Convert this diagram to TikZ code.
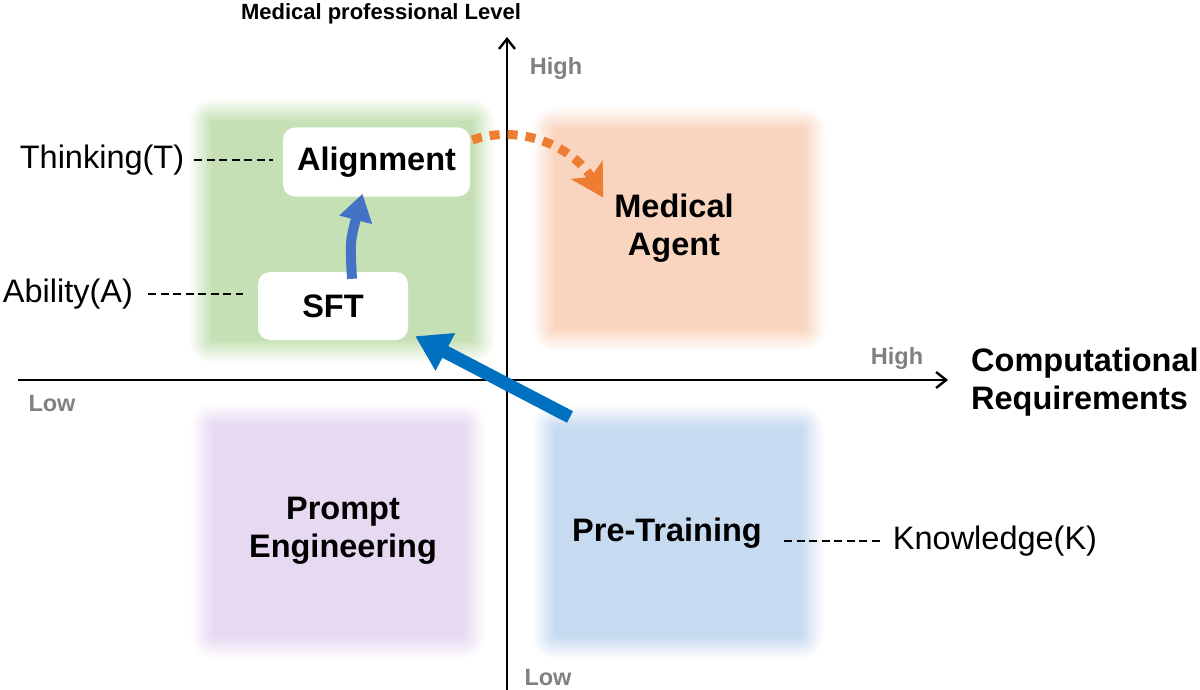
\documentclass[tikz,border=0pt]{standalone}
\usepackage{fontspec}
\setmainfont{Liberation Sans}
\usetikzlibrary{arrows.meta,calc}
\definecolor{qgreen}{HTML}{C5E0B4}
\definecolor{qorange}{HTML}{F9D4BE}
\definecolor{qpurple}{HTML}{E7D9F1}
\definecolor{qblue}{HTML}{C6DAF0}
\definecolor{labgray}{HTML}{808080}
\definecolor{arrblue}{HTML}{0070C0}
\definecolor{arrblueb}{HTML}{4472C4}
\definecolor{arrorange}{HTML}{ED7D31}
% soft-edged rectangle: linear ramp of opacity over a 24pt border
\newcommand\softrect[5]{%
  \foreach \k in {1,...,20}{%
    \pgfmathsetmacro\qop{1/(21-\k)}%
    \pgfmathsetmacro\qin{24-1.2*\k}%
    \pgfmathsetmacro\qrc{max(0.5,\qin)}%
    \fill[#1, fill opacity=\qop, rounded corners=\qrc pt] ({#2-\qin},{#3-\qin}) rectangle ({#4+\qin},{#5+\qin});
  }%
}
\tikzset{
  bold txt/.style={font=\bfseries\fontsize{32.5}{38}\selectfont, align=center, inner sep=0pt},
  plain txt/.style={font=\fontsize{32.5}{38}\selectfont, inner sep=0pt},
  tick txt/.style={font=\bfseries\fontsize{23.5}{26}\selectfont, text=labgray, inner sep=0pt},
  axis line/.style={line width=2.4pt, -{Straight Barb[length=10pt,width=16pt,line width=2.4pt]}},
  white box/.style={fill=white, rounded corners=12pt, inner sep=0pt, font=\bfseries\fontsize{32.5}{38}\selectfont},
  lead line/.style={line width=1.6pt, dash pattern=on 8pt off 4.5pt},
}
\begin{document}
\begin{tikzpicture}[x=1pt,y=-1pt]
\useasboundingbox (0,0) rectangle (1200,690);
% soft quadrant backgrounds
\softrect{qgreen}{212}{122}{472}{340}
\softrect{qorange}{555}{130}{803}{328}
\softrect{qpurple}{214}{426}{463}{636}
\softrect{qblue}{555}{428}{801}{636}
% axes
\coordinate (ybot) at (507,690);
\coordinate (ytop) at (507,37);
\coordinate (xleft) at (18,380);
\coordinate (xright) at (948,380);
\draw[axis line] (ybot) -- (ytop);
\draw[axis line] (xleft) -- (xright);
% axis labels
\node[bold txt, font=\bfseries\fontsize{22}{26}\selectfont] (ytitle) at (381,14) {Medical professional Level};
\node[bold txt, align=left, anchor=west] (xtitle) at (971,382) {Computational\\Requirements};
\node[tick txt] (yhigh) at (556,68) {High};
\node[tick txt] (ylow) at (548,678) {Low};
\node[tick txt] (xhigh) at (897,358) {High};
\node[tick txt] (xlow) at (52,404) {Low};
% boxes
\node[white box, minimum width=187pt, minimum height=69pt] (align) at (376.5,162) {Alignment};
\node[white box, minimum width=150pt, minimum height=68pt] (sft) at (333,306) {SFT};
% quadrant texts
\node[bold txt] (agent) at (674,228) {Medical\\Agent};
\node[bold txt] (prompt) at (343,531) {Prompt\\Engineering};
\node[bold txt] (pretrain) at (667,533) {Pre-Training};
% side labels
\node[plain txt] (think) at (102,160) {Thinking(T)};
\node[plain txt] (abil) at (68,294) {Ability(A)};
\node[plain txt] (know) at (995,541) {Knowledge(K)};
\draw[lead line, shorten <=10pt, shorten >=10pt] (think.east) -- (think.east -| align.west);
\draw[lead line, shorten <=15pt, shorten >=15pt] (abil.east) -- (abil.east -| sft.west);
\draw[lead line, shorten <=22pt, shorten >=13pt] (pretrain.east |- know.west) -- (know.west);
% arrows
\draw[arrblueb, line width=10pt, -{Triangle[length=27pt,width=32pt]}]
  ($(sft.north)+(19,7)$) .. controls ($(sft.north)+(17,-30)$) .. ($(align.south)+(-14,-3)$);
\coordinate (pbstart) at (570,417);
\draw[arrblue, line width=13pt, -{Triangle[length=34pt,width=40pt]}]
  (pbstart) -- ($(sft.south east)+(7,-4)$);
\draw[arrorange, line width=9pt, dash pattern=on 10pt off 8pt, -{Stealth[length=32pt,width=36pt,inset=8pt]}]
  ($(align.east)+(2,-22)$) .. controls (522,123) and (574,148) .. ($(agent.north west)+(-11,4)$);
\end{tikzpicture}
\end{document}
